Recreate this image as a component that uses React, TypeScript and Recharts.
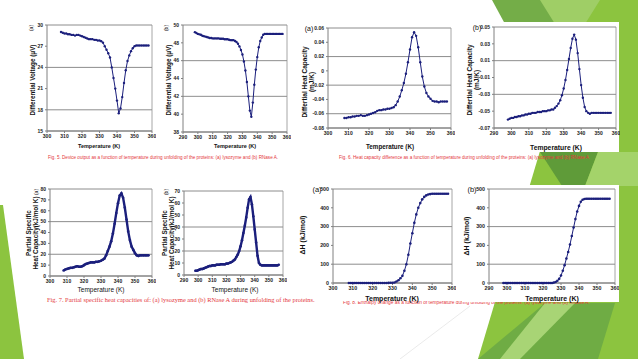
import React from 'react';
import { LineChart, Line, XAxis, YAxis, CartesianGrid, ReferenceLine } from 'recharts';

// temperatures (K)
const tempA = [
  308, 309, 310, 311, 312, 313, 314, 315, 316, 317,
  318, 319, 320, 321, 322, 323, 324, 325, 326, 327,
  328, 329, 330, 331, 332, 333, 334, 335, 336, 337,
  338, 339, 340, 341, 342, 343, 344, 345, 346, 347,
  348, 349, 350, 351, 352, 353, 354, 355, 356, 357,
  358,
];
const tempB = [
  298, 299, 300, 301, 302, 303, 304, 305, 306, 307,
  308, 309, 310, 311, 312, 313, 314, 315, 316, 317,
  318, 319, 320, 321, 322, 323, 324, 325, 326, 327,
  328, 329, 330, 331, 332, 333, 334, 335, 336, 337,
  338, 339, 340, 341, 342, 343, 344, 345, 346, 347,
  348, 349, 350, 351, 352, 353, 354, 355, 356, 357,
];

// Fig. 5 device output (uV)
const voltLyso = [
  29.0, 28.9, 28.8, 28.8, 28.7, 28.7, 28.6, 28.6, 28.5, 28.6,
  28.6, 28.5, 28.4, 28.3, 28.2, 28.1, 28.0, 28.0, 28.0, 27.9,
  27.9, 27.8, 27.8, 27.7, 27.5, 27.0, 26.5, 26.0, 25.4, 24.0,
  22.5, 21.0, 19.3, 17.5, 18.2, 19.8, 21.8, 23.6, 24.9, 25.7,
  26.3, 26.7, 27.0, 27.1, 27.1, 27.1, 27.1, 27.1, 27.1, 27.1,
  27.1,
];
const voltRnase = [
  49.2, 49.1, 49.0, 48.95, 48.9, 48.8, 48.75, 48.7, 48.65, 48.6,
  48.55, 48.55, 48.5, 48.5, 48.5, 48.5, 48.5, 48.45, 48.45, 48.45,
  48.4, 48.4, 48.4, 48.35, 48.3, 48.3, 48.3, 48.2, 48.1, 47.9,
  47.6, 47.2, 46.7, 45.9, 44.9, 43.6, 42.0, 40.4, 39.7, 41.3,
  43.3, 45.0, 46.4, 47.5, 48.2, 48.6, 48.9, 49.0, 49.0, 49.0,
  49.0, 49.0, 49.0, 49.0, 49.0, 49.0, 49.0, 49.0, 49.0, 49.0,
];

// Fig. 6 differential heat capacity (mJ/K)
const dcpLyso = [
  -0.066, -0.066, -0.065, -0.065, -0.064, -0.064, -0.063, -0.063, -0.062, -0.063,
  -0.063, -0.062, -0.061, -0.06, -0.059, -0.058, -0.056, -0.055, -0.055, -0.054,
  -0.054, -0.053, -0.053, -0.052, -0.051, -0.048, -0.043, -0.036, -0.027, -0.017,
  -0.004, 0.012, 0.03, 0.047, 0.054, 0.049, 0.033, 0.012, -0.008, -0.022,
  -0.031, -0.036, -0.039, -0.042, -0.043, -0.043, -0.044, -0.043, -0.043, -0.043,
  -0.043,
];
const dcpRnase = [
  -0.06, -0.059, -0.058, -0.058, -0.057, -0.057, -0.056, -0.056, -0.055, -0.055,
  -0.054, -0.054, -0.053, -0.053, -0.052, -0.052, -0.052, -0.051, -0.051, -0.051,
  -0.05, -0.05, -0.05, -0.049, -0.049, -0.048, -0.048, -0.046, -0.044, -0.041,
  -0.037, -0.031, -0.023, -0.013, -0.001, 0.012, 0.025, 0.036, 0.041, 0.035,
  0.019, 0.0, -0.019, -0.034, -0.045, -0.05, -0.052, -0.053, -0.052, -0.052,
  -0.052, -0.052, -0.052, -0.052, -0.052, -0.052, -0.052, -0.052, -0.052, -0.052,
];

// Fig. 7 partial specific heat capacity (kJ/mol K)
const cpLyso = [
  5, 6, 6.5, 7, 7.5, 7.5, 8, 8.5, 9, 8.5,
  8.5, 9, 10, 11, 11.5, 12, 12.5, 12.5, 12.5, 13,
  13, 13.5, 14, 15, 16, 19, 23, 27, 32, 39,
  48, 58, 67, 74, 76, 72, 63, 52, 41, 33,
  27, 24, 21, 19, 18.5, 19, 19, 19, 19, 19,
  19,
];
const cpRnase = [
  3.5, 3.5, 4, 4.5, 5, 5, 5.5, 6, 6.5, 7,
  7.5, 7.5, 8, 8, 8, 8.5, 8.5, 8.5, 9, 9,
  9, 9, 9.5, 9.5, 10, 10.5, 11, 12, 13, 15,
  17, 20, 24, 29, 35, 41, 48, 56, 63, 65,
  59, 49, 38, 27, 16, 10, 8.5, 8, 8, 8,
  8, 8, 8, 8, 8, 8, 8, 8, 8, 8.5,
];

// Fig. 8 enthalpy change (kJ/mol)
const dhLyso = [
  0, 0, 0, 0, 0, 0, 0, 0, 0, 0,
  0, 0, 0, 0, 0, 0, 0, 0, 0, 0,
  0.5, 1, 1, 3, 8, 15, 25, 38, 65, 100,
  150, 210, 265, 320, 365, 400, 425, 445, 458, 466,
  471, 473, 475, 475, 475, 475, 475, 475, 475, 475,
  475,
];
const dhRnase = [
  0, 0, 0, 0, 0, 0, 0, 0, 0, 0,
  0, 0, 0, 0, 0, 0, 0, 0, 0, 0,
  0, 0, 0, 0, 0, 0, 0, 0, 2, 5,
  12, 22, 40, 65, 95, 130, 165, 205, 250, 295,
  340, 380, 410, 432, 443, 447, 448, 448, 448, 448,
  448, 448, 448, 448, 448, 448, 448, 448, 448, 448,
];

const ticks300 = [300, 310, 320, 330, 340, 350, 360];
const ticks290 = [290, 300, 310, 320, 330, 340, 350, 360];

const NAVY = '#1b1f7c';
const RED = '#e4373c';
const SANS = '"Liberation Sans", Arial, sans-serif';

function Panel({ x0, x1, y0, y1, temps, values, xTicks, yTicks, tickSize = 5, lineWidth = 1, dotR = 1.2 }: any) {
  const padL = 30;
  const padT = 4;
  const padR = 4;
  const axisH = 12;
  const data = temps.map((t: number, i: number) => ({ t, v: values[i] }));
  const xMax = xTicks[xTicks.length - 1];
  const tick = { fontSize: tickSize, fontFamily: SANS, fontWeight: 700, fill: '#222' };
  return (
    <div style={{ position: 'absolute', left: x0 - padL, top: y0 - padT }}>
      <LineChart
        width={x1 - x0 + padL + padR}
        height={y1 - y0 + padT + axisH}
        data={data}
        margin={{ top: padT, right: padR, left: 0, bottom: 0 }}
      >
        <CartesianGrid vertical={false} stroke="#707070" strokeWidth={0.8} />
        <XAxis
          dataKey="t"
          type="number"
          domain={[xTicks[0], xMax]}
          ticks={xTicks}
          height={axisH}
          tick={tick}
          tickSize={2}
          tickMargin={1}
          stroke="#808080"
        />
        <YAxis
          type="number"
          domain={[yTicks[0], yTicks[yTicks.length - 1]]}
          ticks={yTicks}
          width={padL}
          tick={tick}
          tickSize={2}
          tickMargin={2}
          stroke="#808080"
        />
        <ReferenceLine x={xMax} stroke="#909090" strokeWidth={0.8} />
        <Line
          dataKey="v"
          stroke={NAVY}
          strokeWidth={lineWidth}
          dot={{ r: dotR, fill: NAVY, stroke: 'none' }}
          isAnimationActive={false}
        />
      </LineChart>
    </div>
  );
}

function Txt({ x, y, children, size = 6, rotate = false, bold = true, family = SANS, color = '#111', align = 'center', lh = 1.1 }: any) {
  return (
    <div
      style={{
        position: 'absolute',
        left: x,
        top: y,
        transform: `translate(-50%, -50%)${rotate ? ' rotate(-90deg)' : ''}`,
        fontSize: size,
        fontFamily: family,
        fontWeight: bold ? 700 : 400,
        color,
        whiteSpace: 'pre',
        textAlign: align,
        lineHeight: lh,
      }}
    >
      {children}
    </div>
  );
}

function Caption({ x, y, children, size = 4.6, family = SANS }: any) {
  return (
    <div
      style={{
        position: 'absolute',
        left: x,
        top: y,
        transform: 'translateY(-50%)',
        fontSize: size,
        fontFamily: family,
        color: RED,
        whiteSpace: 'nowrap',
        lineHeight: 1,
      }}
    >
      {children}
    </div>
  );
}

function Backdrop() {
  return (
    <svg width={638} height={359} style={{ position: 'absolute', left: 0, top: 0 }}>
      <polygon points="585,0 638,0 638,359 478,359" fill="#8cc43f" />
      <polygon points="492,0 585,0 570,24 505,24" fill="#74ad48" />
      <polygon points="540,0 600,0 585,24 555,24" fill="#9fce66" />
      <polygon points="540,152 598,152 585,186 562,186" fill="#5f9b39" />
      <polygon points="598,152 638,152 638,186 585,186" fill="#a4d36a" />
      <polygon points="478,359 545,303 615,303 598,359" fill="#6fac44" />
      <polygon points="545,303 575,303 520,359 500,359" fill="#a8d475" />
      <polygon points="0,205 3,205 24,359 0,359" fill="#8cc43f" />
      <line x1={400} y1={359} x2={470} y2={306} stroke="#e4e4e4" strokeWidth={0.8} />
    </svg>
  );
}

export default function App() {
  return (
    <div style={{ position: 'absolute', left: 0, top: 0, width: 638, height: 359, background: '#fff', overflow: 'hidden' }}>
      <Backdrop />

      <Caption x={47} y={300} size={6.4} family='"Liberation Serif", "Times New Roman", serif'>
        Fig. 7. Partial specific heat capacities of: (a) lysozyme and (b) RNase A during unfolding of the proteins.
      </Caption>
      <Caption x={343} y={303} size={4.8}>
        Fig. 8. Enthalpy change as a function of temperature during unfolding of the proteins: (a) lysozyme and (b) RNase A.
      </Caption>

      {/* white picture panels */}
      <div style={{ position: 'absolute', left: 462, top: 22, width: 157, height: 130, background: '#fff' }} />
      <div style={{ position: 'absolute', left: 318, top: 183, width: 144, height: 118, background: '#fff' }} />
      <div style={{ position: 'absolute', left: 462, top: 185, width: 157, height: 117, background: '#fff' }} />

      {/* Fig. 5 */}
      <Panel x0={47} x1={152} y0={25} y1={131} temps={tempA} values={voltLyso} xTicks={ticks300} yTicks={[15, 18, 21, 24, 27, 30]} />
      <Txt x={33} y={80} size={6.3} rotate>Differential Voltage (μV)</Txt>
      <Txt x={32} y={28} size={5} rotate bold={false}>(a)</Txt>
      <Txt x={99} y={146} size={5.5}>Temperature (K)</Txt>

      <Panel x0={183} x1={287} y0={25} y1={132} temps={tempB} values={voltRnase} xTicks={ticks290} yTicks={[38, 40, 42, 44, 46, 48, 50]} />
      <Txt x={169} y={80} size={6.3} rotate>Differential Voltage (μV)</Txt>
      <Txt x={167} y={28} size={5} rotate bold={false}>(b)</Txt>
      <Txt x={235} y={146} size={5.5}>Temperature (K)</Txt>

      {/* Fig. 6 */}
      <Panel x0={328} x1={451} y0={28} y1={128} temps={tempA} values={dcpLyso} xTicks={ticks300} yTicks={[-0.08, -0.06, -0.04, -0.02, 0, 0.02, 0.04, 0.06]} />
      <Txt x={308} y={82} size={6.5} rotate>{'Differtial Heat Capacity\n(mJ/K)'}</Txt>
      <Txt x={309} y={29} size={7} bold={false}>(a)</Txt>
      <Txt x={390} y={147} size={6.3}>Temperature (K)</Txt>

      <Panel x0={494} x1={616} y0={27} y1={128} temps={tempB} values={dcpRnase} xTicks={ticks290} yTicks={[-0.07, -0.05, -0.03, -0.01, 0.01, 0.03, 0.05]} />
      <Txt x={473} y={80} size={6.5} rotate>{'Differtial Heat Capacity\n(mJ/K)'}</Txt>
      <Txt x={477} y={28} size={7} bold={false}>(b)</Txt>
      <Txt x={556} y={148} size={6.8}>Temperature (K)</Txt>

      <Caption x={48} y={158}>
        Fig. 5. Device output as a function of temperature during unfolding of the proteins: (a) lysozyme and (b) RNase A.
      </Caption>
      <Caption x={339} y={158}>
        Fig. 6. Heat capacity difference as a function of temperature during unfolding of the proteins: (a) lysozyme and (b) RNase A
      </Caption>

      {/* Fig. 7 */}
      <Panel x0={50} x1={152} y0={189} y1={276} temps={tempA} values={cpLyso} xTicks={ticks300} yTicks={[0, 10, 20, 30, 40, 50, 60, 70, 80]} lineWidth={2.4} dotR={1.3} />
      <Txt x={32} y={233} size={6.4} rotate>{'Partial Specific\nHeat Capacity(kJ/mol K)'}</Txt>
      <Txt x={37} y={192} size={5} rotate bold={false}>(a)</Txt>
      <Txt x={101} y={290} size={6.5} bold={false} family='"Liberation Sans Narrow", "Liberation Sans", sans-serif'>Temperature (K)</Txt>

      <Panel x0={184} x1={283} y0={191} y1={275} temps={tempB} values={cpRnase} xTicks={ticks290} yTicks={[0, 10, 20, 30, 40, 50, 60, 70]} lineWidth={2.4} dotR={1.3} />
      <Txt x={168} y={233} size={6.4} rotate>{'Partial Specific\nHeat Capacity(kJ/mol K)'}</Txt>
      <Txt x={167} y={192} size={5} rotate bold={false}>(b)</Txt>
      <Txt x={235} y={290} size={6.5} bold={false} family='"Liberation Sans Narrow", "Liberation Sans", sans-serif'>Temperature (K)</Txt>

      {/* Fig. 8 */}
      <Panel x0={333} x1={452} y0={189} y1={283} temps={tempA} values={dhLyso} xTicks={ticks300} yTicks={[0, 100, 200, 300, 400, 500]} tickSize={5.3} dotR={1.3} />
      <Txt x={303} y={235} size={7} rotate>ΔH (kJ/mol)</Txt>
      <Txt x={317} y={190} size={7.5} bold={false}>(a)</Txt>
      <Txt x={392} y={299} size={7}>Temperature (K)</Txt>

      <Panel x0={489} x1={615} y0={189} y1={283} temps={tempB} values={dhRnase} xTicks={ticks290} yTicks={[0, 100, 200, 300, 400, 500]} tickSize={5.3} dotR={1.3} />
      <Txt x={467} y={236} size={7} rotate>ΔH (kJ/mol)</Txt>
      <Txt x={472} y={190} size={7.5} bold={false}>(b)</Txt>
      <Txt x={552} y={299} size={7}>Temperature (K)</Txt>
    </div>
  );
}
